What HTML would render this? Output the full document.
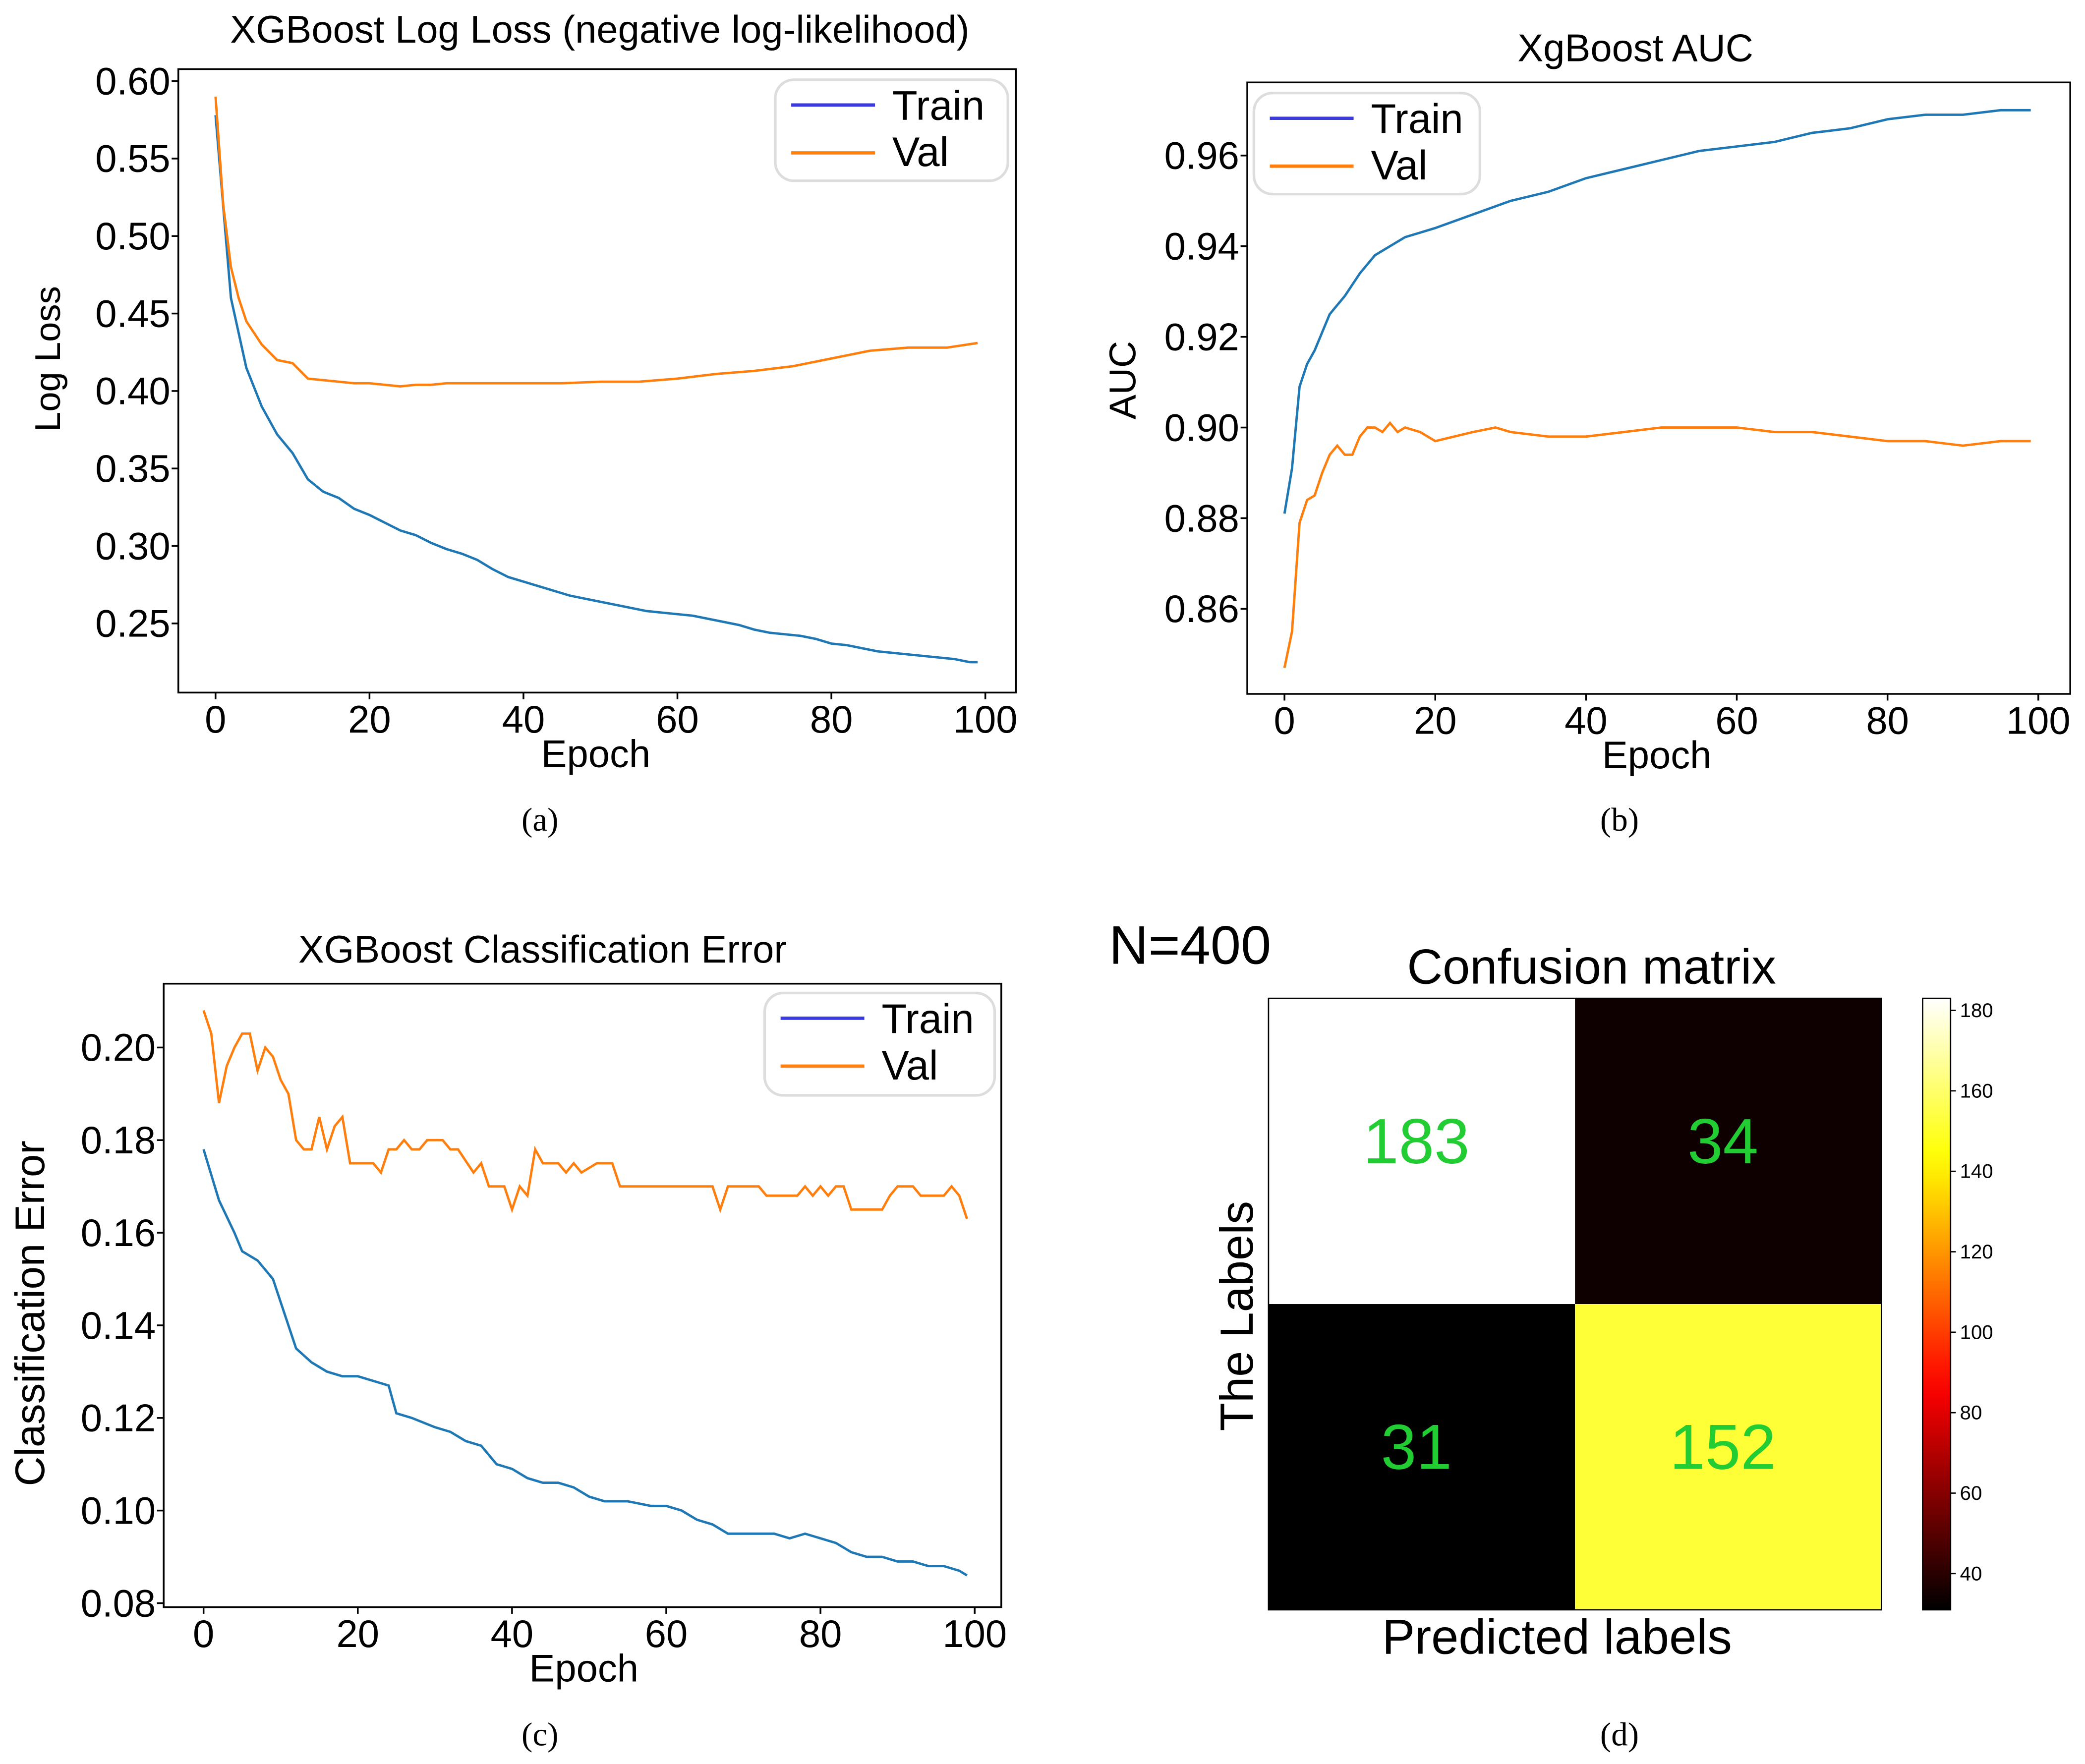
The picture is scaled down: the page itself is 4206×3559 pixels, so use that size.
<!DOCTYPE html>
<html><head><meta charset="utf-8"><style>
html,body{margin:0;padding:0;background:#fff}
svg{display:block}
text{font-family:"Liberation Sans","DejaVu Sans",sans-serif;fill:#000}
.cap{font-family:"Liberation Serif",serif}
</style></head><body>
<svg id="fig" width="4206" height="3559" viewBox="0 0 1568 1327" xmlns="http://www.w3.org/2000/svg"></svg>
<script>
// ---- chart data ----
const lossTrainEpochs=[0,2,4,6,8,10,12,14,16,18,20,22,24,26,28,30,32,34,36,38,40,42,44,46,48,50,52,54,56,58,60,62,64,66,68,70,72,74,76,78,80,82,84,86,88,90,92,94,96,98,99];
const lossTrain=[0.578,0.46,0.415,0.39,0.372,0.36,0.343,0.335,0.331,0.324,0.32,0.315,0.31,0.307,0.302,0.298,0.295,0.291,0.285,0.28,0.277,0.274,0.271,0.268,0.266,0.264,0.262,0.26,0.258,0.257,0.256,0.255,0.253,0.251,0.249,0.246,0.244,0.243,0.242,0.24,0.237,0.236,0.234,0.232,0.231,0.23,0.229,0.228,0.227,0.225,0.225];
const lossValEpochs=[0,1,2,3,4,6,8,10,12,14,16,18,20,22,24,26,28,30,35,40,45,50,55,60,65,70,75,80,85,90,95,99];
const lossVal=[0.59,0.52,0.48,0.46,0.445,0.43,0.42,0.418,0.408,0.407,0.406,0.405,0.405,0.404,0.403,0.404,0.404,0.405,0.405,0.405,0.405,0.406,0.406,0.408,0.411,0.413,0.416,0.421,0.426,0.428,0.428,0.431];
const lossTicks=[0.25,0.30,0.35,0.40,0.45,0.50,0.55,0.60];
const epochTicks=[0,20,40,60,80,100];

const aucTrainEpochs=[0,1,2,3,4,6,8,10,12,14,16,18,20,25,30,35,40,45,50,55,60,65,70,75,80,85,90,95,99];
const aucTrain=[0.881,0.891,0.909,0.914,0.917,0.925,0.929,0.934,0.938,0.94,0.942,0.943,0.944,0.947,0.95,0.952,0.955,0.957,0.959,0.961,0.962,0.963,0.965,0.966,0.968,0.969,0.969,0.970,0.970];
const aucValEpochs=[0,1,2,3,4,5,6,7,8,9,10,11,12,13,14,15,16,18,20,25,28,30,35,40,45,50,55,60,65,70,75,80,85,90,95,99];
const aucVal=[0.847,0.855,0.879,0.884,0.885,0.89,0.894,0.896,0.894,0.894,0.898,0.9,0.9,0.899,0.901,0.899,0.9,0.899,0.897,0.899,0.9,0.899,0.898,0.898,0.899,0.9,0.9,0.9,0.899,0.899,0.898,0.897,0.897,0.896,0.897,0.897];
const aucTicks=[0.86,0.88,0.90,0.92,0.94,0.96];

const errTrainEpochs=[0,2,4,5,7,9,10,12,14,16,18,20,22,24,25,27,30,32,34,36,38,40,42,44,46,48,50,52,55,58,60,62,64,66,68,70,74,76,78,80,82,84,86,88,90,92,94,96,98,99];
const errTrain=[0.178,0.167,0.16,0.156,0.154,0.15,0.145,0.135,0.132,0.13,0.129,0.129,0.128,0.127,0.121,0.12,0.118,0.117,0.115,0.114,0.11,0.109,0.107,0.106,0.106,0.105,0.103,0.102,0.102,0.101,0.101,0.1,0.098,0.097,0.095,0.095,0.095,0.094,0.095,0.094,0.093,0.091,0.09,0.09,0.089,0.089,0.088,0.088,0.087,0.086];
const errValEpochs=[0,1,2,3,4,5,6,7,8,9,10,11,12,13,14,15,16,17,18,19,20,22,23,24,25,26,27,28,29,31,32,33,35,36,37,39,40,41,42,43,44,46,47,48,49,51,53,54,60,66,67,68,72,73,77,78,79,80,81,82,83,84,88,89,90,92,93,96,97,98,99];
const errVal=[0.208,0.203,0.188,0.196,0.2,0.203,0.203,0.195,0.2,0.198,0.193,0.19,0.18,0.178,0.178,0.185,0.178,0.183,0.185,0.175,0.175,0.175,0.173,0.178,0.178,0.18,0.178,0.178,0.18,0.18,0.178,0.178,0.173,0.175,0.17,0.17,0.165,0.17,0.168,0.178,0.175,0.175,0.173,0.175,0.173,0.175,0.175,0.17,0.17,0.17,0.165,0.17,0.17,0.168,0.168,0.17,0.168,0.17,0.168,0.17,0.17,0.165,0.165,0.168,0.17,0.17,0.168,0.168,0.17,0.168,0.163];
const errTicks=[0.08,0.10,0.12,0.14,0.16,0.18,0.20];

const cmValues=[[183,34],[31,152]];
const cbTicks=[40,60,80,100,120,140,160,180];
const cbMin=31, cbMax=183;

// ---- drawing ----
const svg=document.getElementById('fig');
const NS='http://www.w3.org/2000/svg';
function el(tag,attrs,parent,txt){const e=document.createElementNS(NS,tag);for(const k in attrs)e.setAttribute(k,attrs[k]);if(txt!==undefined)e.textContent=txt;(parent||svg).appendChild(e);return e;}
const BLUE='#1f77b4',ORANGE='#ff7f0e';

function chart(o){
  const g=el('g',{});
  
  
  const xs=e=>o.x0+(e-0)*(o.x100-o.x0)/100;
  const ys=v=>o.yA+(v-o.vA)*(o.yB-o.yA)/(o.vB-o.vA);
  const fr=el('rect',{x:o.bx,y:o.by,width:o.bw,height:o.bh,fill:'none',stroke:'#000','stroke-width':1.3},g);
  
  epochTicks.forEach(t=>{const x=xs(t);
    el('line',{x1:x,x2:x,y1:o.by+o.bh,y2:o.by+o.bh+5,stroke:'#000','stroke-width':1.3},g);
    const tl=el('text',{x:x,y:o.by+o.bh+30,'text-anchor':'middle','font-size':29},g,String(t));
    });
  o.ticks.forEach(t=>{const y=ys(t);
    el('line',{x1:o.bx-5,x2:o.bx,y1:y,y2:y,stroke:'#000','stroke-width':1.3},g);
    const tl=el('text',{x:o.bx-6,y:y+10,'text-anchor':'end','font-size':29},g,t.toFixed(2));
    });
  [[o.trE,o.tr,BLUE,'train-line'],[o.vaE,o.va,ORANGE,'val-line']].forEach(s=>{
    const p=s[0].map((e,i)=>xs(e).toFixed(2)+','+ys(s[1][i]).toFixed(2)).join(' ');
    const pl=el('polyline',{points:p,fill:'none',stroke:s[2],'stroke-width':1.8},g);
    });
  const t=el('text',{x:o.tx,y:o.ty,'text-anchor':'middle','font-size':29},g,o.title);
  
  const xl=el('text',{x:o.xlx,y:o.by+o.bh+56,'text-anchor':'middle','font-size':29},g,'Epoch');
  
  const yl=el('text',{x:0,y:0,transform:`translate(${o.ylx},${o.yly}) rotate(-90)`,'text-anchor':'middle','font-size':o.yfs},g,o.ylabel);
  
  const L=o.leg;
  const lg=el('g',{},g);
  
  el('rect',{x:L[0],y:L[1],width:L[2],height:L[3],rx:14,fill:'#fff',stroke:'#ddd','stroke-width':2},lg);
  el('line',{x1:L[0]+12,x2:L[0]+75,y1:L[1]+19,y2:L[1]+19,stroke:'#3a3adf','stroke-width':2.5},lg);
  el('line',{x1:L[0]+12,x2:L[0]+75,y1:L[1]+55,y2:L[1]+55,stroke:ORANGE,'stroke-width':2.5},lg);
  const e1=el('text',{x:L[0]+88,y:L[1]+30,'font-size':31},lg,'Train');
  
  const e2=el('text',{x:L[0]+88,y:L[1]+65,'font-size':31},lg,'Val');
  
  const c=el('text',{x:o.capx,y:o.capy,'text-anchor':'middle','font-size':25,class:'cap'},g,o.cap);
  
}

chart({name:'log-loss-chart',bx:134,by:52,bw:630,bh:469,x0:162,x100:741,vA:0.60,yA:61,vB:0.25,yB:469,ticks:lossTicks,
  trE:lossTrainEpochs,tr:lossTrain,vaE:lossValEpochs,va:lossVal,title:'XGBoost Log Loss (negative log-likelihood)',tx:451,ty:32,
  xlx:448,ylx:45,yly:270,yfs:27,ylabel:'Log Loss',leg:[583,60,175,76],cap:'(a)',capx:406,capy:625});
chart({name:'auc-chart',bx:938,by:62,bw:619,bh:460,x0:966,x100:1533,vA:0.96,yA:117,vB:0.86,yB:458,ticks:aucTicks,
  trE:aucTrainEpochs,tr:aucTrain,vaE:aucValEpochs,va:aucVal,title:'XgBoost AUC',tx:1230,ty:46,
  xlx:1246,ylx:854,yly:286,yfs:28,ylabel:'AUC',leg:[943,70,170,76],cap:'(b)',capx:1218,capy:625});
chart({name:'classification-error-chart',bx:123,by:740,bw:630,bh:469,x0:153,x100:733,vA:0.20,yA:788,vB:0.08,yB:1206,ticks:errTicks,
  trE:errTrainEpochs,tr:errTrain,vaE:errValEpochs,va:errVal,title:'XGBoost Classification Error',tx:408,ty:724,
  xlx:439,ylx:33,yly:988,yfs:31,ylabel:'Classification Error',leg:[575,747,173,77],cap:'(c)',capx:406,capy:1313});

// confusion matrix
function hot(v){const x=(v-cbMin)/(cbMax-cbMin);const c=z=>Math.round(255*Math.max(0,Math.min(1,z)));
  return `rgb(${c(x/0.365)},${c((x-0.365)/0.375)},${c((x-0.74)/0.26)})`;}
const cm=el('g',{});

const mx=954,my=751,cw=230.5,ch=230;
cmValues.forEach((row,i)=>row.forEach((v,j)=>{
  const r=el('rect',{x:mx+j*cw,y:my+i*ch,width:cw,height:ch,fill:hot(v)},cm);
  
  const t=el('text',{x:mx+j*cw+cw/2-4,y:my+i*ch+ch/2+9,'text-anchor':'middle','font-size':48,style:'fill:#22cc33'},cm,String(v));
  
}));
el('rect',{x:mx,y:my,width:2*cw,height:2*ch,fill:'none',stroke:'#000'},cm);
const ct=el('text',{x:1197,y:740,'text-anchor':'middle','font-size':37},cm,'Confusion matrix');

const nt=el('text',{x:895,y:725,'text-anchor':'middle','font-size':41},cm,'N=400');

const pl=el('text',{x:1171,y:1244,'text-anchor':'middle','font-size':37},cm,'Predicted labels');

const tl=el('text',{x:0,y:0,transform:'translate(942,990) rotate(-90)','text-anchor':'middle','font-size':35},cm,'The Labels');

// colorbar
const cb=el('g',{});

const defs=el('defs',{},cb);
const lgd=el('linearGradient',{id:'hotg',x1:0,y1:1,x2:0,y2:0},defs);
for(let k=0;k<=20;k++){const v=cbMin+(cbMax-cbMin)*k/20;el('stop',{offset:k/20,'stop-color':hot(v)},lgd);}
const cbx=1446,cby=751,cbw=21,cbh=460;
el('rect',{x:cbx,y:cby,width:cbw,height:cbh,fill:'url(#hotg)',stroke:'#000'},cb);
const cys=v=>cby+cbh-(v-cbMin)*cbh/(cbMax-cbMin);
cbTicks.forEach(t=>{const y=cys(t);
  el('line',{x1:cbx+cbw,x2:cbx+cbw+4,y1:y,y2:y,stroke:'#000'},cb);
  const l=el('text',{x:cbx+cbw+7,y:y+5,'font-size':15},cb,String(t));
  });
const cd=el('text',{x:1218,y:1313,'text-anchor':'middle','font-size':25,class:'cap'},svg,'(d)');

</script>
</body></html>
